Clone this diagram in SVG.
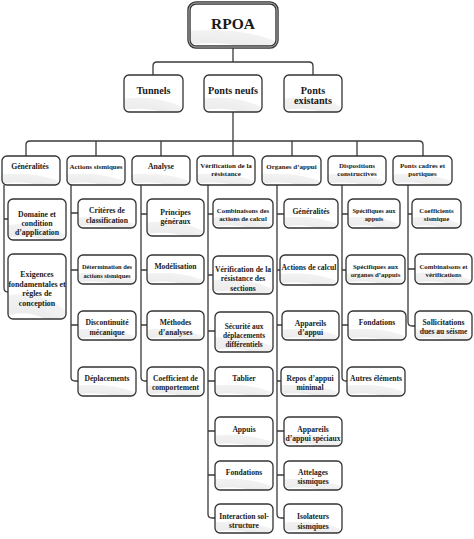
<svg xmlns="http://www.w3.org/2000/svg" width="474" height="539" viewBox="0 0 474 539">
<defs>
<radialGradient id="sw" cx="0.25" cy="1.8" r="1.25" fx="0.25" fy="1.8">
<stop offset="0.70" stop-color="#ffffff"/>
<stop offset="0.72" stop-color="#ececec"/>
<stop offset="0.94" stop-color="#f2f2f2"/>
<stop offset="0.96" stop-color="#ffffff"/>
</radialGradient>
<style>
.b{fill:url(#sw);stroke:#333;stroke-width:1.3}
.c{fill:none;stroke:#3a3a3a;stroke-width:1.3}
text{font-family:"Liberation Serif","Times New Roman",serif;font-weight:bold;fill:#1a1a1a;text-anchor:middle;dominant-baseline:central}
.f1{font-size:10.2px}
.f2{font-size:7px}
.f2b{font-size:7.7px}
.f3{font-size:7.6px}
.f3s{font-size:6.5px}
.f3m{font-size:6.8px}
</style>
</defs>
<rect width="474" height="539" fill="#fff"/>

<g id="connectors" class="c">
<path d="M233,47 V62 M153,75 V66 Q153,62 157,62 H309 Q313,62 313,66 V75"/>
<path d="M233,112 V156 M26,156 V145 Q26,141 30,141 H419 Q423,141 423,145 V156 M96,141 V156 M161,141 V156 M292,141 V156 M357,141 V156"/>
<path d="M4,185 V288 Q4,292 8,292 M4,219 H8"/>
<path d="M71,185 V377 Q71,381 75,381 H78 M71,213 H78 M71,270 H78 M71,325 H78"/>
<path d="M141,185 V377 Q141,381 145,381 H147 M141,214 H147 M141,270 H147 M141,325 H147"/>
<path d="M208,185 V514 Q208,518 212,518 H215 M208,214 H213 M208,275 H213 M208,331 H215 M208,381 H215 M208,431 H215 M208,475 H215"/>
<path d="M277,185 V514 Q277,518 281,518 H284 M277,214 H284 M277,270 H280 M277,325 H282 M277,381 H281 M277,431 H284 M277,475 H284"/>
<path d="M342,185 V377 Q342,381 346,381 H347 M342,214 H348 M342,270 H346 M342,325 H348"/>
<path d="M408,185 V322 Q408,326 412,326 H415 M408,214 H412 M408,269 H415"/>
</g>

<g id="n-rpoa">
<rect x="189" y="3" width="88" height="44" rx="7" fill="url(#sw)" stroke="#333" stroke-width="3.4"/>
<rect x="189" y="3" width="88" height="44" rx="7" fill="none" stroke="#c8c8c8" stroke-width="0.9"/>
<text x="233" y="23" style="font-size:15.5px">RPOA</text>
</g>

<g id="n-tunnels"><rect class="b" x="124" y="75" width="59" height="37" rx="5"/><text class="f1" x="153.5" y="90.5">Tunnels</text></g>
<g id="n-ponts-neufs"><rect class="b" x="204" y="75" width="58" height="37" rx="5"/><text class="f1" x="233" y="90.5">Ponts neufs</text></g>
<g id="n-ponts-existants"><rect class="b" x="284" y="75" width="58" height="37" rx="5"/><text class="f1" x="313" y="90">Ponts</text><text class="f1" x="313" y="100.7">existants</text></g>

<g id="n-generalites"><rect class="b" x="2" y="156" width="58" height="29" rx="5"/><text class="f2b" x="30" y="166.7">Généralités</text></g>
<g id="n-actions-sismiques"><rect class="b" x="67" y="156" width="58" height="29" rx="5"/><text class="f2" x="96" y="166.7">Actions sismiques</text></g>
<g id="n-analyse"><rect class="b" x="132" y="156" width="58" height="29" rx="5"/><text class="f2b" x="161" y="166.7">Analyse</text></g>
<g id="n-verification"><rect class="b" x="197" y="156" width="58" height="29" rx="5"/><text class="f2" x="226" y="165.7">Vérification de la</text><text class="f2" x="226" y="174.3">résistance</text></g>
<g id="n-organes"><rect class="b" x="262" y="156" width="59" height="29" rx="5"/><text class="f2" x="291.5" y="166.7">Organes d’appui</text></g>
<g id="n-dispositions"><rect class="b" x="328" y="156" width="58" height="29" rx="5"/><text class="f2" x="357" y="165.7">Dispositions</text><text class="f2" x="357" y="174.3">constructives</text></g>
<g id="n-ponts-cadres"><rect class="b" x="393" y="156" width="59" height="29" rx="5"/><text class="f2" x="422.5" y="165.7">Ponts cadres et</text><text class="f2" x="422.5" y="174.3">portiques</text></g>

<g id="n-domaine"><rect class="b" x="8" y="199" width="58" height="41" rx="5"/><text style="font-size:7.8px" x="37" y="214">Domaine et</text><text style="font-size:7.8px" x="37" y="223">condition</text><text style="font-size:7.8px" x="37" y="232">d’application</text></g>
<g id="n-exigences"><rect class="b" x="8" y="254" width="58" height="65" rx="5"/><text style="font-size:7.9px" x="37" y="274">Exigences</text><text style="font-size:7.9px" x="37" y="284">fondamentales et</text><text style="font-size:7.9px" x="37" y="293">règles de</text><text style="font-size:7.9px" x="37" y="303">conception</text></g>

<g id="n-criteres"><rect class="b" x="78" y="199" width="58" height="29" rx="5"/><text class="f3" x="107" y="210.7">Critères de</text><text class="f3" x="107" y="220">classification</text></g>
<g id="n-determination"><rect class="b" x="78" y="255" width="58" height="29" rx="5"/><text style="font-size:6.4px" x="107" y="266.7">Détermination des</text><text style="font-size:6.4px" x="107" y="275">actions sismiques</text></g>
<g id="n-discontinuite"><rect class="b" x="78" y="311" width="58" height="29" rx="5"/><text class="f3" x="107" y="322.7">Discontinuité</text><text class="f3" x="107" y="332">mécanique</text></g>
<g id="n-deplacements"><rect class="b" x="78" y="367" width="58" height="29" rx="5"/><text class="f3" x="107" y="378">Déplacements</text></g>

<g id="n-principes"><rect class="b" x="147" y="199" width="57" height="37" rx="5"/><text class="f3" x="175.5" y="212.7">Principes</text><text class="f3" x="175.5" y="221.7">généraux</text></g>
<g id="n-modelisation"><rect class="b" x="147" y="255" width="57" height="29" rx="5"/><text class="f3" x="175.5" y="266.7">Modélisation</text></g>
<g id="n-methodes"><rect class="b" x="147" y="311" width="57" height="29" rx="5"/><text class="f3" x="175.5" y="322.7">Méthodes</text><text class="f3" x="175.5" y="332">d’analyses</text></g>
<g id="n-coefficient"><rect class="b" x="147" y="367" width="57" height="29" rx="5"/><text class="f3" x="175.5" y="378.3">Coefficient de</text><text class="f3" x="175.5" y="387.7">comportement</text></g>

<g id="n-combinaisons"><rect class="b" x="213" y="199" width="60" height="29" rx="5"/><text class="f3m" x="243" y="210">Combinaisons des</text><text class="f3m" x="243" y="218.5">actions de calcul</text></g>
<g id="n-verif-sections"><rect class="b" x="213" y="256" width="60" height="38" rx="5"/><text class="f3" x="243" y="269">Vérification de la</text><text class="f3" x="243" y="278.5">résistance des</text><text class="f3" x="243" y="288">sections</text></g>
<g id="n-securite"><rect class="b" x="215" y="312" width="58" height="40" rx="5"/><text style="font-size:7.3px" x="244" y="326">Sécurité aux</text><text style="font-size:7.3px" x="244" y="335">déplacements</text><text style="font-size:7.3px" x="244" y="344">différentiels</text></g>
<g id="n-tablier"><rect class="b" x="215" y="367" width="58" height="29" rx="5"/><text class="f3" x="244" y="378">Tablier</text></g>
<g id="n-appuis"><rect class="b" x="215" y="417" width="58" height="29" rx="5"/><text class="f3" x="244" y="429">Appuis</text></g>
<g id="n-fondations-1"><rect class="b" x="215" y="461" width="58" height="29" rx="5"/><text class="f3" x="244" y="472">Fondations</text></g>
<g id="n-interaction"><rect class="b" x="215" y="504" width="58" height="29" rx="5"/><text class="f3" x="244" y="516">Interaction sol-</text><text class="f3" x="244" y="525">structure</text></g>

<g id="n-generalites-2"><rect class="b" x="284" y="199" width="54" height="29" rx="5"/><text class="f3" x="311" y="211">Généralités</text></g>
<g id="n-actions-calcul"><rect class="b" x="280" y="255" width="58" height="30" rx="5"/><text class="f3" x="309" y="267">Actions de calcul</text></g>
<g id="n-appareils"><rect class="b" x="282" y="311" width="57" height="29" rx="5"/><text class="f3" x="310.5" y="323">Appareils</text><text class="f3" x="310.5" y="332">d’appui</text></g>
<g id="n-repos"><rect class="b" x="281" y="367" width="58" height="29" rx="5"/><text class="f3" x="310" y="378">Repos d’appui</text><text class="f3" x="310" y="387">minimal</text></g>
<g id="n-appareils-speciaux"><rect class="b" x="284" y="417" width="58" height="29" rx="5"/><text class="f3" x="313" y="429">Appareils</text><text class="f3" x="313" y="438">d’appui spéciaux</text></g>
<g id="n-attelages"><rect class="b" x="284" y="461" width="58" height="29" rx="5"/><text class="f3" x="313" y="472">Attelages</text><text class="f3" x="313" y="481">sismiques</text></g>
<g id="n-isolateurs"><rect class="b" x="284" y="504" width="58" height="29" rx="5"/><text class="f3" x="313" y="516">Isolateurs</text><text class="f3" x="313" y="526">sismqiues</text></g>

<g id="n-specifiques-appuis"><rect class="b" x="348" y="199" width="52" height="29" rx="5"/><text class="f3s" x="374" y="210">Spécifiques aux</text><text class="f3s" x="374" y="218.5">appuis</text></g>
<g id="n-specifiques-organes"><rect class="b" x="346" y="255" width="59" height="29" rx="5"/><text class="f3m" x="375.5" y="266">Spécifiques aux</text><text class="f3m" x="375.5" y="274.5">organes d’appuis</text></g>
<g id="n-fondations-2"><rect class="b" x="348" y="311" width="58" height="29" rx="5"/><text class="f3" x="377" y="322.5">Fondations</text></g>
<g id="n-autres"><rect class="b" x="347" y="367" width="58" height="29" rx="5"/><text class="f3" x="376" y="378">Autres éléments</text></g>

<g id="n-coefficients"><rect class="b" x="412" y="199" width="49" height="29" rx="5"/><text class="f3m" x="436.5" y="210">Coefficients</text><text class="f3m" x="436.5" y="218.5">sismique</text></g>
<g id="n-combinaisons-verif"><rect class="b" x="415" y="254" width="57" height="30" rx="5"/><text class="f3m" x="443.5" y="266">Combinaisons et</text><text class="f3m" x="443.5" y="274.5">vérifications</text></g>
<g id="n-sollicitations"><rect class="b" x="415" y="311" width="57" height="29" rx="5"/><text class="f3" x="443.5" y="322.5">Sollicitations</text><text class="f3" x="443.5" y="331.5">dues au séisme</text></g>
</svg>
